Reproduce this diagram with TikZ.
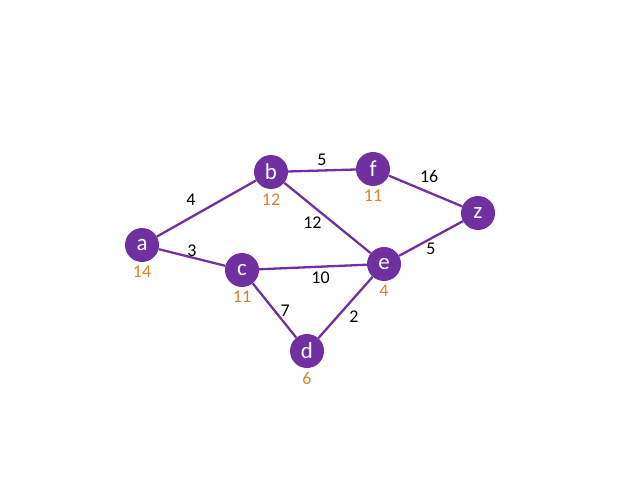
\documentclass[tikz,border=0pt]{standalone}
\usepackage{fontspec}
\setmainfont{Carlito}
\usepackage{tikz}
\usetikzlibrary{positioning}
\definecolor{vpurple}{RGB}{112,48,160}
\definecolor{corange}{RGB}{224,128,40}

\begin{document}
\begin{tikzpicture}[x=1bp,y=-1bp,
  vtx/.style={circle,fill=vpurple,text=white,minimum size=34bp,inner sep=0pt,font=\fontsize{23}{24}\selectfont},
  cost/.style={text=corange,font=\fontsize{18}{19}\selectfont,inner sep=1bp},
  edge/.style={draw=vpurple,line width=2.3bp},
  wt/.style={font=\fontsize{18}{19}\selectfont,inner sep=2bp}]
\useasboundingbox (0,0) rectangle (638,478);
\foreach \n/\x/\y/\1 in %
{a/142/245/14,b/271/172/12,c/242/270/11,d/307/351/6,e/384/264/4,f/373/169/11} {
   \node[vtx] (\n) at (\x,\y) {\n};
   \node[cost,below=3bp of \n] (\n w) {\1};
}
\node[vtx] (z) at (478,213) {z};
\foreach \s/\t/\1/\p in %
{a/b/4/{above left=4bp,pos=0.45},a/c/3/{above=-2bp},b/f/5/{above=2bp},f/z/16/{above=7bp,pos=0.55},
 b/e/12/{left=8bp,pos=0.56},e/z/5/{below=1bp},c/e/10/{below=2bp,pos=0.57},c/d/7/{right=3bp},
 d/e/2/{below right=1bp}} {
   \tikzset{wpos/.style/.expand once=\p}
   \draw[edge] (\s) -- node[wt,wpos] {\1} (\t);
}
\end{tikzpicture}
\end{document}
